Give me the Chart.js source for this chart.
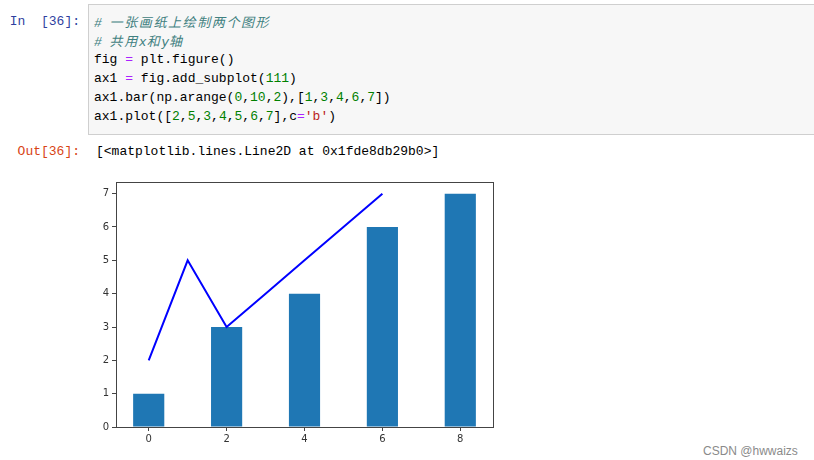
<!DOCTYPE html>
<html>
<head>
<meta charset="utf-8">
<script src="https://cdn.jsdelivr.net/npm/chart.js@4/dist/chart.umd.min.js"></script>
<style>
  body { margin: 0; width: 814px; height: 460px; background: #fff; position: relative; overflow: hidden; }
  .mono { font-family: "Liberation Mono", "DejaVu Sans Mono", monospace; font-size: 13px; white-space: pre; position: absolute; line-height: 19px; }
  .prompt { right: 734px; text-align: right; }
  .cell { position: absolute; left: 88px; top: 4px; width: 740px; height: 129px; background: #f7f7f7; border: 1px solid #cfcfcf; }
  .cm { color: #408080; font-style: italic; }
  .cjk { font-family: "Noto Sans CJK SC", sans-serif; letter-spacing: 1.6px; font-size: 13px; }
  .op { color: #aa22ff; }
  .nu { color: #008000; }
  .st { color: #ba2121; }
  #wrap { position: absolute; left: 80px; top: 170px; width: 440px; height: 280px; }
  .mark { position: absolute; left: 703px; top: 444px; font-family: "Liberation Sans", Arial, sans-serif; font-size: 12px; color: #8a8a8a; }
</style>
</head>
<body>
<div class="mono prompt" style="top:12px;color:#303f9f;">In  [36]:</div>
<div class="cell"></div>
<div class="mono" style="left:94px;top:12px;"><span class="cm"># <span class="cjk">一张画纸上绘制两个图形</span></span></div>
<div class="mono" style="left:94px;top:31px;"><span class="cm"># <span class="cjk">共用</span>x<span class="cjk">和</span>y<span class="cjk">轴</span></span></div>
<div class="mono" style="left:94px;top:50px;">fig <span class="op">=</span> plt.figure()</div>
<div class="mono" style="left:94px;top:69px;">ax1 <span class="op">=</span> fig.add_subplot(<span class="nu">111</span>)</div>
<div class="mono" style="left:94px;top:88px;">ax1.bar(np.arange(<span class="nu">0</span>,<span class="nu">10</span>,<span class="nu">2</span>),[<span class="nu">1</span>,<span class="nu">3</span>,<span class="nu">4</span>,<span class="nu">6</span>,<span class="nu">7</span>])</div>
<div class="mono" style="left:94px;top:107px;">ax1.plot([<span class="nu">2</span>,<span class="nu">5</span>,<span class="nu">3</span>,<span class="nu">4</span>,<span class="nu">5</span>,<span class="nu">6</span>,<span class="nu">7</span>],c<span class="op">=</span><span class="st">'b'</span>)</div>
<div class="mono prompt" style="top:142px;color:#d84315;">Out[36]:</div>
<div class="mono" style="left:96px;top:142px;">[&lt;matplotlib.lines.Line2D at 0x1fde8db29b0&gt;]</div>
<div id="wrap"><canvas id="myChart" width="440" height="280"></canvas></div>
<div class="mark">CSDN @hwwaizs</div>
<script>
'use strict';

// bar data
let barX = [0, 2, 4, 6, 8];
let barY = [1, 3, 4, 6, 7];
// line data (plotted against index)
let lineX = [0, 1, 2, 3, 4, 5, 6];
let lineY = [2, 5, 3, 4, 5, 6, 7];
// axis ticks
let xTicks = [0, 2, 4, 6, 8];
let yTicks = [0, 1, 2, 3, 4, 5, 6, 7];

let barPts = barX.map((x, i) => ({ x: x, y: barY[i] }));
let linePts = lineX.map((x, i) => ({ x: x, y: lineY[i] }));

// full box around the plot area, like matplotlib spines
let frame = {
    id: 'frame',
    afterDatasetsDraw(chart) {
        let a = chart.chartArea;
        let ctx = chart.ctx;
        ctx.save();
        ctx.strokeStyle = '#444';
        ctx.lineWidth = 1;
        ctx.strokeRect(Math.round(a.left) + 0.5, Math.round(a.top) + 0.5,
            Math.round(a.right - a.left), Math.round(a.bottom - a.top));
        ctx.restore();
    }
};

let ctx = document.getElementById('myChart').getContext('2d');
let myChart = new Chart(ctx, {
    type: 'bar',
    data: {
        datasets: [{
            type: 'line',
            data: linePts,
            borderColor: '#0000ff',
            borderWidth: 2,
            pointRadius: 0,
            tension: 0,
            fill: false,
            order: 0
        }, {
            type: 'bar',
            data: barPts,
            backgroundColor: '#1f77b4',
            barPercentage: 0.4,
            categoryPercentage: 1,
            order: 1
        }]
    },
    options: {
        responsive: false,
        animation: false,
        layout: { padding: { left: 0, top: 12, right: 27, bottom: 0 } },
        plugins: { legend: { display: false }, tooltip: { enabled: false } },
        scales: {
            x: {
                type: 'linear',
                offset: false,
                min: -0.84,
                max: 8.84,
                afterBuildTicks: s => { s.ticks = xTicks.map(v => ({ value: v })); },
                afterFit: s => { s.height = 23; },
                grid: { offset: false, drawOnChartArea: false, tickLength: 4, color: '#444' },
                border: { display: false },
                ticks: { padding: 2, color: '#333', font: { family: 'DejaVu Sans', size: 10 } }
            },
            y: {
                min: 0,
                max: 7.35,
                afterBuildTicks: s => { s.ticks = yTicks.map(v => ({ value: v })); },
                afterFit: s => { s.width = 36; },
                grid: { drawOnChartArea: false, tickLength: 4, color: '#444' },
                border: { display: false },
                ticks: { padding: 3, color: '#333', font: { family: 'DejaVu Sans', size: 10 } }
            }
        }
    },
    plugins: [frame]
});
</script>
</body>
</html>
